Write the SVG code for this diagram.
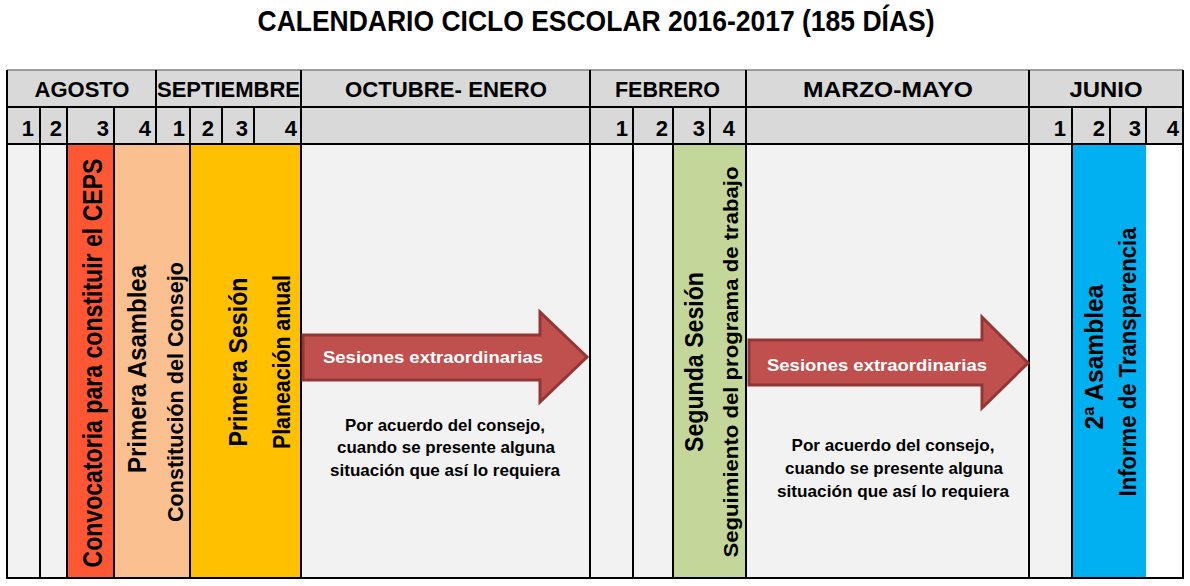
<svg xmlns="http://www.w3.org/2000/svg" width="1190" height="586" viewBox="0 0 1190 586">
<style>
.t{font-family:"Liberation Sans",Arial,sans-serif;font-weight:bold;fill:#000}
.hd{font-size:22px;text-anchor:middle}
.num{font-size:22px;text-anchor:end}
.v{text-anchor:middle}
.ln{stroke:#000;stroke-width:2;fill:none}
.arrow{fill:#c0504d;stroke:#943634;stroke-width:3;stroke-linejoin:miter}
.at{font-family:"Liberation Sans",Arial,sans-serif;font-weight:bold;font-size:17px;fill:#fff;text-anchor:middle}
.p{font-family:"Liberation Sans",Arial,sans-serif;font-weight:bold;font-size:17px;fill:#000;text-anchor:middle}
</style>
<rect width="1190" height="586" fill="#fff"/>
<g id="title">
<text class="t" x="596" y="31" font-size="30" text-anchor="middle" textLength="677" lengthAdjust="spacingAndGlyphs">CALENDARIO CICLO ESCOLAR 2016-2017 (185 DÍAS)</text>
</g>
<g id="table-background">
<rect x="7" y="70" width="1176" height="74" fill="#d9d9d9"/>
<rect x="7" y="144" width="1176" height="434" fill="#f2f2f2"/>
<rect x="1146" y="144" width="37" height="434" fill="#ffffff"/>
</g>
<g id="col-convocatoria"><rect x="67" y="144" width="47" height="434" fill="#ff5733"/>
<text class="t v" font-size="27" textLength="409" lengthAdjust="spacingAndGlyphs" transform="translate(102,363) rotate(-90)">Convocatoria para constituir el CEPS</text></g>
<g id="col-primera-asamblea"><rect x="114" y="144" width="76" height="434" fill="#fac090"/>
<text class="t v" font-size="25" textLength="208" lengthAdjust="spacingAndGlyphs" transform="translate(146,369) rotate(-90)">Primera Asamblea</text>
<text class="t v" font-size="22" textLength="260" lengthAdjust="spacingAndGlyphs" transform="translate(183,392) rotate(-90)">Constitución del Consejo</text></g>
<g id="col-primera-sesion"><rect x="190" y="144" width="111" height="434" fill="#ffc000"/>
<text class="t v" font-size="26" textLength="169" lengthAdjust="spacingAndGlyphs" transform="translate(247,362) rotate(-90)">Primera Sesión</text>
<text class="t v" font-size="23" textLength="174" lengthAdjust="spacingAndGlyphs" transform="translate(290,362) rotate(-90)">Planeación anual</text></g>
<g id="col-segunda-sesion"><rect x="673" y="144" width="73" height="434" fill="#c4d79b"/>
<text class="t v" font-size="25" textLength="180" lengthAdjust="spacingAndGlyphs" transform="translate(703,362) rotate(-90)">Segunda Sesión</text>
<text class="t v" font-size="21" textLength="391" lengthAdjust="spacingAndGlyphs" transform="translate(738,362) rotate(-90)">Seguimiento del programa de trabajo</text></g>
<g id="col-segunda-asamblea"><rect x="1072" y="144" width="74" height="434" fill="#00b0f0"/>
<text class="t v" font-size="25" textLength="145" lengthAdjust="spacingAndGlyphs" transform="translate(1103,357) rotate(-90)">2ª Asamblea</text>
<text class="t v" font-size="24" textLength="269" lengthAdjust="spacingAndGlyphs" transform="translate(1136,362) rotate(-90)">Informe de Transparencia</text></g>
<g id="grid">
<line x1="7" y1="70" x2="1183" y2="70" stroke="#808080" stroke-width="1.5"/>
<line class="ln" x1="7" y1="107" x2="1183" y2="107"/>
<line class="ln" x1="7" y1="144" x2="1183" y2="144"/>
<line class="ln" x1="6" y1="578" x2="1184" y2="578"/>
<line class="ln" x1="7" y1="70" x2="7" y2="578"/>
<line class="ln" x1="1183" y1="70" x2="1183" y2="578"/>
<line class="ln" x1="156" y1="70" x2="156" y2="144"/>
<line class="ln" x1="301" y1="70" x2="301" y2="578"/>
<line class="ln" x1="590" y1="70" x2="590" y2="578"/>
<line class="ln" x1="746" y1="70" x2="746" y2="578"/>
<line class="ln" x1="1029" y1="70" x2="1029" y2="578"/>
<line class="ln" x1="40" y1="107" x2="40" y2="578"/>
<line class="ln" x1="67" y1="107" x2="67" y2="578"/>
<line class="ln" x1="114" y1="107" x2="114" y2="578"/>
<line class="ln" x1="190" y1="107" x2="190" y2="578"/>
<line class="ln" x1="633" y1="107" x2="633" y2="578"/>
<line class="ln" x1="673" y1="107" x2="673" y2="578"/>
<line class="ln" x1="1072" y1="107" x2="1072" y2="578"/>
<line class="ln" x1="222" y1="107" x2="222" y2="144"/>
<line class="ln" x1="254" y1="107" x2="254" y2="144"/>
<line class="ln" x1="710" y1="107" x2="710" y2="144"/>
<line class="ln" x1="1110" y1="107" x2="1110" y2="144"/>
<line class="ln" x1="1146" y1="107" x2="1146" y2="144"/>
</g>
<g id="months">
<text class="t hd" x="82" y="97" textLength="95" lengthAdjust="spacingAndGlyphs">AGOSTO</text>
<text class="t hd" x="228.5" y="97" textLength="143" lengthAdjust="spacingAndGlyphs">SEPTIEMBRE</text>
<text class="t hd" x="446" y="97" textLength="202" lengthAdjust="spacingAndGlyphs">OCTUBRE- ENERO</text>
<text class="t hd" x="667.5" y="97" textLength="105" lengthAdjust="spacingAndGlyphs">FEBRERO</text>
<text class="t hd" x="888" y="97" textLength="170" lengthAdjust="spacingAndGlyphs">MARZO-MAYO</text>
<text class="t hd" x="1106" y="97" textLength="73" lengthAdjust="spacingAndGlyphs">JUNIO</text>
</g>
<g id="weeks">
<text class="t num" x="34" y="136">1</text>
<text class="t num" x="62" y="136">2</text>
<text class="t num" x="109" y="136">3</text>
<text class="t num" x="151" y="136">4</text>
<text class="t num" x="185" y="136">1</text>
<text class="t num" x="214" y="136">2</text>
<text class="t num" x="248" y="136">3</text>
<text class="t num" x="297" y="136">4</text>
<text class="t num" x="628" y="136">1</text>
<text class="t num" x="668" y="136">2</text>
<text class="t num" x="705" y="136">3</text>
<text class="t num" x="735" y="136">4</text>
<text class="t num" x="1066" y="136">1</text>
<text class="t num" x="1105" y="136">2</text>
<text class="t num" x="1141" y="136">3</text>
<text class="t num" x="1179" y="136">4</text>
</g>
<g id="connectors">
<g id="arrow-octubre-enero">
<path class="arrow" d="M303,335 L540,335 L540,312 L587,357 L540,402 L540,380 L303,380 Z"/>
<text class="at" x="433" y="363" textLength="220" lengthAdjust="spacingAndGlyphs">Sesiones extraordinarias</text>
</g>
<g id="arrow-marzo-mayo">
<path class="arrow" d="M749,340 L982,340 L982,317 L1028,363 L982,408 L982,385 L749,385 Z"/>
<text class="at" x="877" y="371" textLength="220" lengthAdjust="spacingAndGlyphs">Sesiones extraordinarias</text>
</g>
</g>
<g id="note-octubre-enero">
<text class="p" x="445" y="431" textLength="200" lengthAdjust="spacingAndGlyphs">Por acuerdo del consejo,</text>
<text class="p" x="446" y="453" textLength="218" lengthAdjust="spacingAndGlyphs">cuando se presente alguna</text>
<text class="p" x="445" y="476" textLength="230" lengthAdjust="spacingAndGlyphs">situación que así lo requiera</text>
</g>
<g id="note-marzo-mayo">
<text class="p" x="893" y="451" textLength="203" lengthAdjust="spacingAndGlyphs">Por acuerdo del consejo,</text>
<text class="p" x="894" y="474" textLength="218" lengthAdjust="spacingAndGlyphs">cuando se presente alguna</text>
<text class="p" x="893" y="497" textLength="232" lengthAdjust="spacingAndGlyphs">situación que así lo requiera</text>
</g>
</svg>
